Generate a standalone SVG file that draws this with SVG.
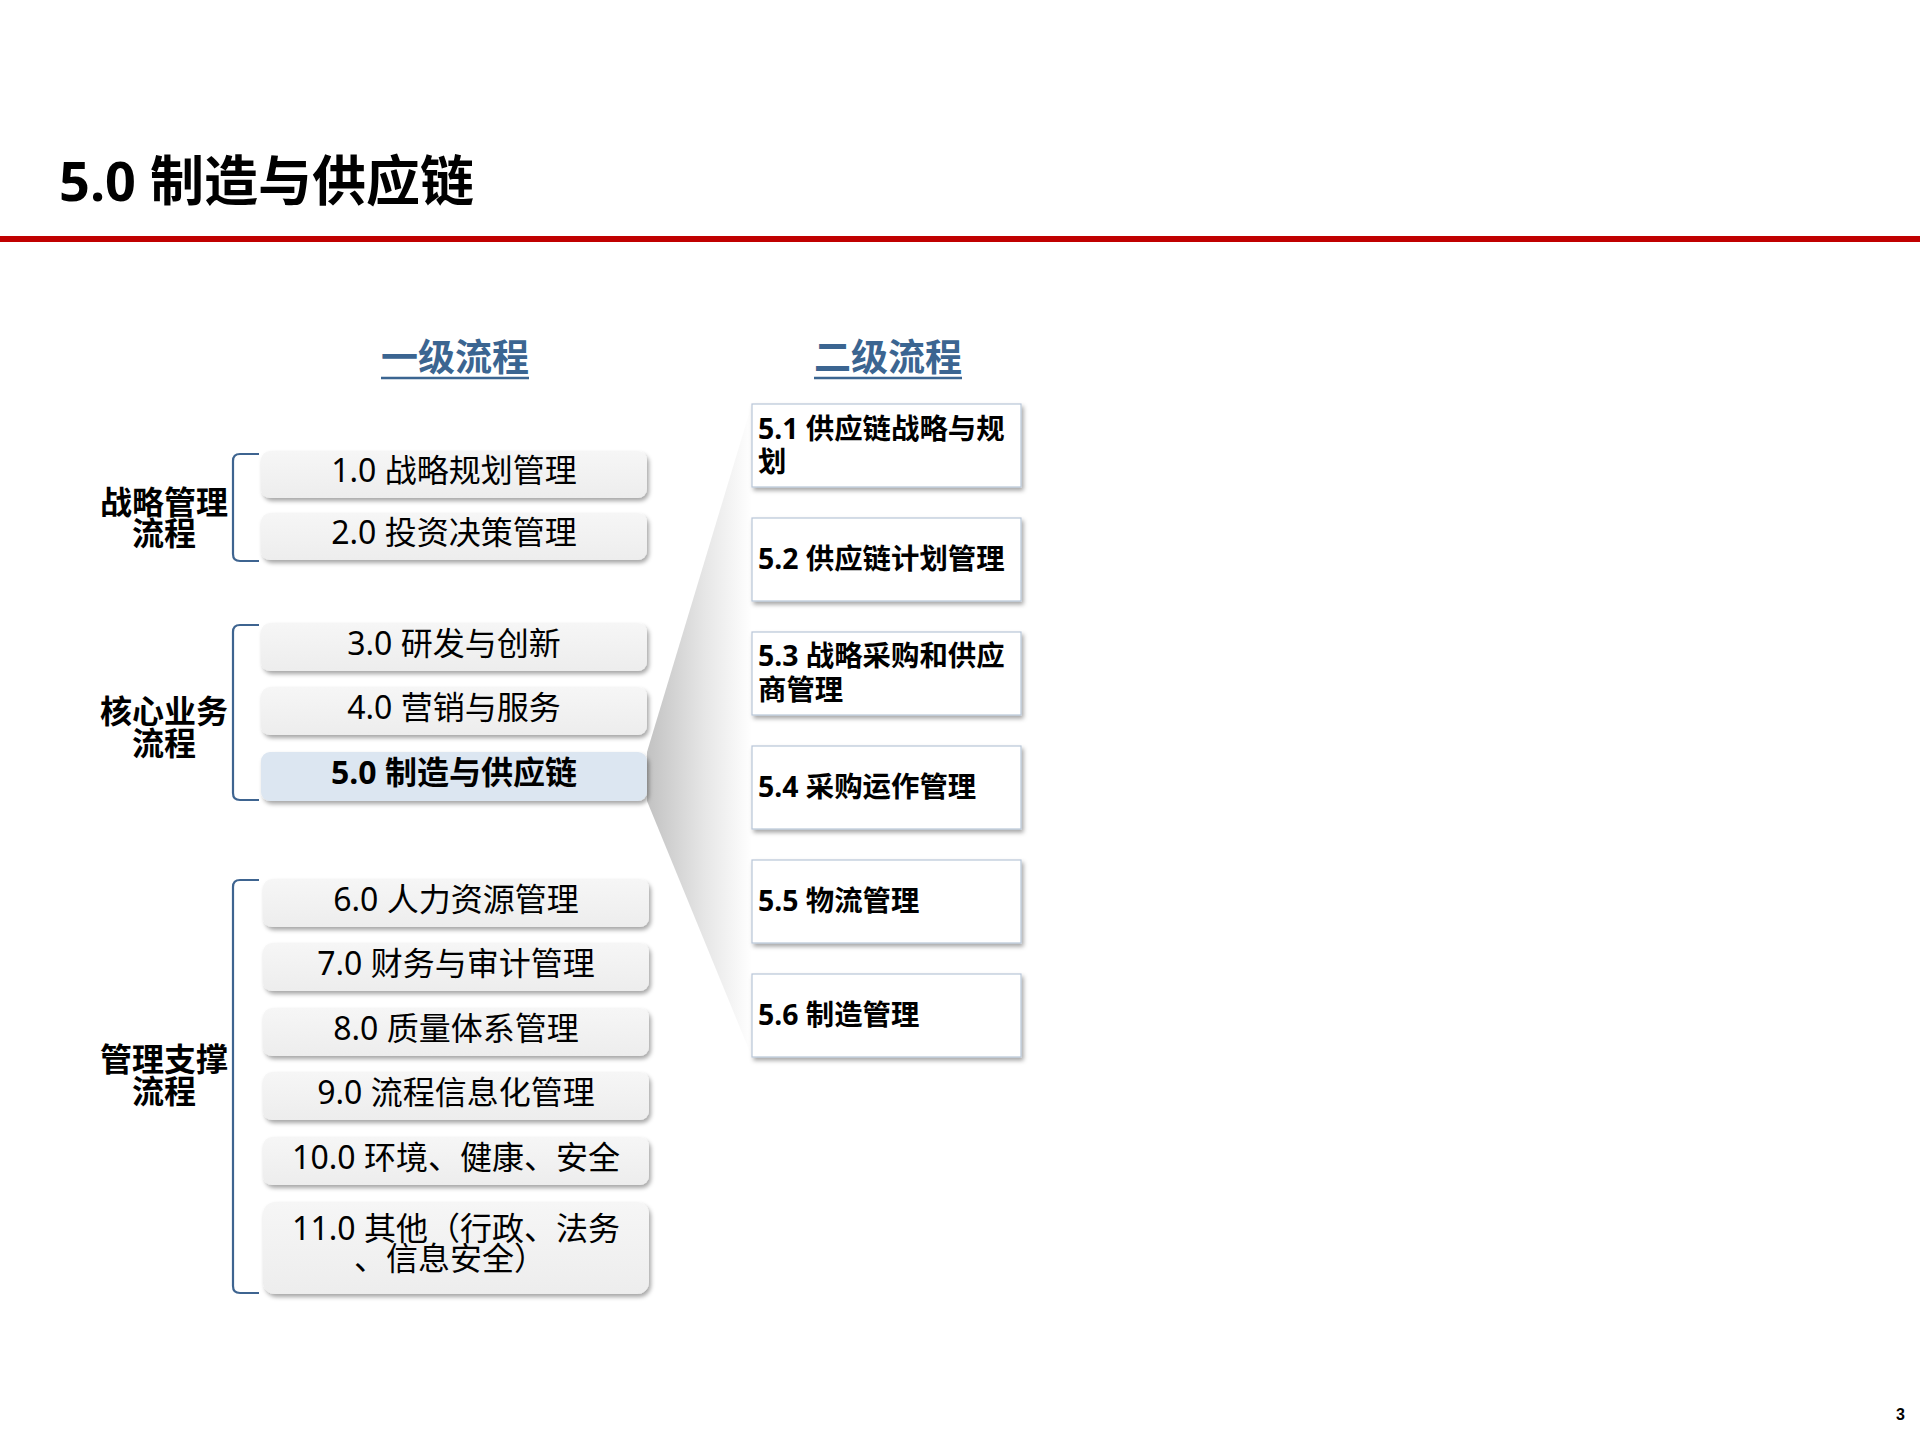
<svg xmlns="http://www.w3.org/2000/svg" width="1920" height="1440" viewBox="0 0 1920 1440">
<defs>
<style>
text{font-family:'Noto Sans','Noto Sans CJK SC',sans-serif;fill:#000}
.lb{font-size:32px;text-anchor:middle}
.lbb{font-size:32px;text-anchor:middle;font-weight:bold}
.gl{font-size:32px;font-weight:bold;text-anchor:middle}
.rt{font-size:28.4px;font-weight:bold}
.hd{font-size:37px;font-weight:bold;text-anchor:middle;fill:#3B6591}
.box{fill:url(#gbox)}
.sel{fill:#DCE6F1}
.rbox{fill:#FFFFFF;stroke:#B8C6D8;stroke-width:1.2}
.br{fill:none;stroke:#3E6490;stroke-width:2.2}
</style>
<linearGradient id="gbox" x1="0" y1="0" x2="0" y2="1">
<stop offset="0" stop-color="#F6F6F6"/>
<stop offset="1" stop-color="#EDEDED"/>
</linearGradient>
<linearGradient id="gwedge" gradientUnits="userSpaceOnUse" x1="647" y1="0" x2="752" y2="0">
<stop offset="0" stop-color="#C2C2C2"/>
<stop offset="0.55" stop-color="#E6E6E6"/>
<stop offset="1" stop-color="#FFFFFF"/>
</linearGradient>
<filter id="sh" x="-10%" y="-20%" width="120%" height="160%">
<feDropShadow dx="2" dy="3" stdDeviation="2" flood-color="#000" flood-opacity="0.35"/>
</filter>
</defs>
<rect width="1920" height="1440" fill="#FFFFFF"/>

<g id="title">
<text x="59" y="201" style="font-size:54px;font-weight:bold">5.0 制造与供应链</text>
<rect x="0" y="236" width="1920" height="6" fill="#C00000"/>
</g>

<g id="headers">
<text class="hd" x="455" y="371">一级流程</text>
<line x1="381" y1="378" x2="529" y2="378" stroke="#3B6591" stroke-width="2.5"/>
<text class="hd" x="888" y="371">二级流程</text>
<line x1="814" y1="378" x2="962" y2="378" stroke="#3B6591" stroke-width="2.5"/>
</g>

<g id="connectors">
<polygon points="647,752 752,404 752,1057 647,801" fill="url(#gwedge)"/>
<path class="br" d="M259,454 H240 Q233,454 233,461 V554 Q233,561 240,561 H259"/>
<path class="br" d="M259,625 H240 Q233,625 233,632 V793 Q233,800 240,800 H259"/>
<path class="br" d="M259,880 H240 Q233,880 233,887 V1286 Q233,1293 240,1293 H259"/>
</g>

<g id="group-strategy">
<text class="gl" x="164" y="514">战略管理</text>
<text class="gl" x="164" y="545">流程</text>
</g>
<g id="group-core">
<text class="gl" x="164" y="723">核心业务</text>
<text class="gl" x="164" y="755">流程</text>
</g>
<g id="group-support">
<text class="gl" x="164" y="1071">管理支撑</text>
<text class="gl" x="164" y="1103">流程</text>
</g>

<g id="n1"><rect class="box" x="261" y="451" width="386" height="47" rx="9" filter="url(#sh)"/><text class="lb" x="454" y="482">1.0 战略规划管理</text></g>
<g id="n2"><rect class="box" x="261" y="513" width="386" height="47" rx="9" filter="url(#sh)"/><text class="lb" x="454" y="544">2.0 投资决策管理</text></g>
<g id="n3"><rect class="box" x="261" y="623" width="386" height="48" rx="9" filter="url(#sh)"/><text class="lb" x="454" y="655">3.0 研发与创新</text></g>
<g id="n4"><rect class="box" x="261" y="687" width="386" height="48" rx="9" filter="url(#sh)"/><text class="lb" x="454" y="719">4.0 营销与服务</text></g>
<g id="n5"><rect class="sel" x="261" y="752" width="386" height="49" rx="9" filter="url(#sh)"/><text class="lbb" x="454" y="784">5.0 制造与供应链</text></g>
<g id="n6"><rect class="box" x="263" y="879" width="386" height="48" rx="9" filter="url(#sh)"/><text class="lb" x="456" y="911">6.0 人力资源管理</text></g>
<g id="n7"><rect class="box" x="263" y="943" width="386" height="48" rx="9" filter="url(#sh)"/><text class="lb" x="456" y="975">7.0 财务与审计管理</text></g>
<g id="n8"><rect class="box" x="263" y="1008" width="386" height="48" rx="9" filter="url(#sh)"/><text class="lb" x="456" y="1040">8.0 质量体系管理</text></g>
<g id="n9"><rect class="box" x="263" y="1072" width="386" height="48" rx="9" filter="url(#sh)"/><text class="lb" x="456" y="1104">9.0 流程信息化管理</text></g>
<g id="n10"><rect class="box" x="263" y="1137" width="386" height="48" rx="9" filter="url(#sh)"/><text class="lb" x="456" y="1169">10.0 环境、健康、安全</text></g>
<g id="n11"><rect class="box" x="263" y="1202" width="386" height="92" rx="12" filter="url(#sh)"/><text class="lb" x="456" y="1240">11.0 其他（行政、法务</text><text class="lb" x="450" y="1270">、信息安全）</text></g>

<g id="s1"><rect class="rbox" x="752" y="404" width="269" height="83" filter="url(#sh)"/><text class="rt" x="758" y="439">5.1 供应链战略与规</text><text class="rt" x="758" y="472">划</text></g>
<g id="s2"><rect class="rbox" x="752" y="518" width="269" height="83" filter="url(#sh)"/><text class="rt" x="758" y="569">5.2 供应链计划管理</text></g>
<g id="s3"><rect class="rbox" x="752" y="632" width="269" height="83" filter="url(#sh)"/><text class="rt" x="758" y="666">5.3 战略采购和供应</text><text class="rt" x="758" y="700">商管理</text></g>
<g id="s4"><rect class="rbox" x="752" y="746" width="269" height="83" filter="url(#sh)"/><text class="rt" x="758" y="797">5.4 采购运作管理</text></g>
<g id="s5"><rect class="rbox" x="752" y="860" width="269" height="83" filter="url(#sh)"/><text class="rt" x="758" y="911">5.5 物流管理</text></g>
<g id="s6"><rect class="rbox" x="752" y="974" width="269" height="83" filter="url(#sh)"/><text class="rt" x="758" y="1025">5.6 制造管理</text></g>

<g id="page"><text x="1896" y="1420" style="font-family:'Liberation Sans',sans-serif;font-size:16px;font-weight:bold">3</text></g>
</svg>
